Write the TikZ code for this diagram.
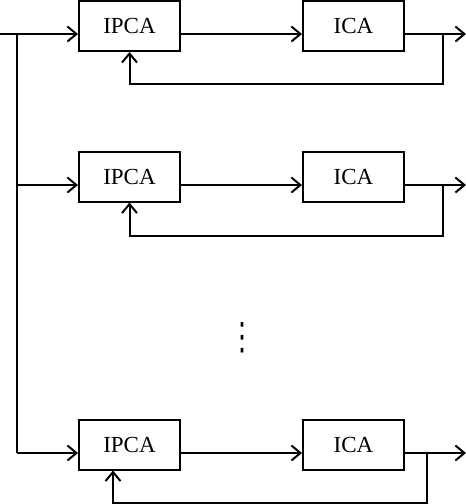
\documentclass[tikz,border=0pt]{standalone}
\usepackage{fontspec}
\setmainfont{Liberation Serif}
\newfontfamily\symfont{DejaVu Sans}
\usetikzlibrary{arrows.meta,positioning}

\begin{document}
\begin{tikzpicture}[
  x=1pt, y=-1pt,
  >={Straight Barb[length=9pt,width=15pt]},
  every node/.style={font=\fontsize{23}{27}\selectfont},
  block/.style={draw, line width=2pt, minimum width=101pt, minimum height=50pt, inner sep=0pt},
  arr/.style={->, line width=2pt},
  wire/.style={line width=2pt}
]
  \useasboundingbox (0,0) rectangle (466,504);

  % three processing rows
  \node[block] (ipca1) at (129.5,26) {IPCA};
  \node[block] (ica1) at (353.5,26) {ICA};
  \node[block] (ipca2) at (129.5,176.5) {IPCA};
  \node[block] (ica2) at (353.5,176.5) {ICA};
  \node[block] (ipca3) at (129.5,444.5) {IPCA};
  \node[block] (ica3) at (353.5,444.5) {ICA};
  \node[inner sep=0pt, font=\symfont\fontsize{26}{30}\selectfont] (dots) at (242,338) {\scalebox{1}[1.45]{⋮}};

  \coordinate (in) at (0,34);
  \coordinate (s1) at (17,34);
  \coordinate (s2) at (17,185);
  \coordinate (s3) at (17,453);
  \coordinate (o1) at (466,34);
  \coordinate (o2) at (466,185);
  \coordinate (o3) at (466,453);
  \coordinate (b1) at (443,34);
  \coordinate (b2) at (443,185);
  \coordinate (b3) at (427,453);
  \coordinate (f1) at (443,84);
  \coordinate (f2) at (443,236);
  \coordinate (f3) at (427,502.5);

  \draw[arr] (in) -- (in -| ipca1.west);
  \draw[wire] (s1) -- (s3);
  \draw[arr] (s2) -- (s2 -| ipca2.west);
  \draw[arr] (s3) -- (s3 -| ipca3.west);

  \draw[arr] (s1 -| ipca1.east) -- (s1 -| ica1.west);
  \draw[arr] (s2 -| ipca2.east) -- (s2 -| ica2.west);
  \draw[arr] (s3 -| ipca3.east) -- (s3 -| ica3.west);

  \draw[arr] (s1 -| ica1.east) -- (o1);
  \draw[arr] (s2 -| ica2.east) -- (o2);
  \draw[arr] (s3 -| ica3.east) -- (o3);

  \draw[arr] (b1) -- (f1) -| (ipca1.south);
  \draw[arr] (b2) -- (f2) -| (ipca2.south);
  \draw[arr] (b3) -- (f3) -| ([xshift=-16.5pt]ipca3.south);
\end{tikzpicture}
\end{document}
